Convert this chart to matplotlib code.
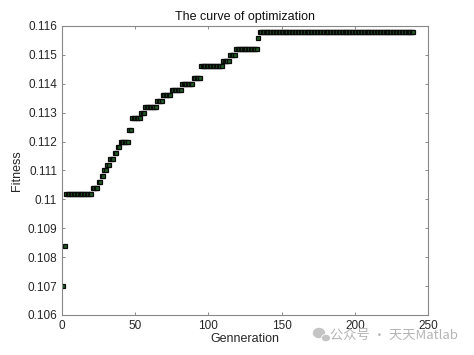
import numpy as np
import matplotlib
matplotlib.use("Agg")
import matplotlib.pyplot as plt
from matplotlib.patches import Ellipse

# fitness level and the generation where it first shows up
step_start = [1, 2, 3, 21, 25, 27, 29, 31, 33, 36, 38, 40, 46, 48, 54, 57, 65,
              69, 75, 82, 90, 95, 110, 115, 119, 134, 135]
step_value = [0.1070, 0.1084, 0.1102, 0.1104, 0.1106, 0.1108, 0.1110, 0.1112,
              0.1114, 0.1116, 0.1118, 0.1120, 0.1124, 0.1128, 0.1130, 0.1132,
              0.1134, 0.1136, 0.1138, 0.1140, 0.1142, 0.1146, 0.1148, 0.1150,
              0.1152, 0.1156, 0.1158]
last_gen = 240

x_ticks = [0, 50, 100, 150, 200, 250]
y_ticks = [0.106, 0.107, 0.108, 0.109, 0.110, 0.111, 0.112, 0.113, 0.114, 0.115, 0.116]
y_labels = ["0.106", "0.107", "0.108", "0.109", "0.11", "0.111", "0.112",
            "0.113", "0.114", "0.115", "0.116"]

lengths = np.diff(step_start + [last_gen + 1])
gens = np.arange(1, last_gen + 1)
fitness = np.repeat(step_value, lengths)

plt.rcParams["font.family"] = ["Liberation Sans", "DejaVu Sans"]
fig = plt.figure(figsize=(4.74, 3.55), dpi=100)
ax = fig.add_axes([0.1308, 0.1127, 0.7722, 0.8141])

ax.plot(gens, fitness, linestyle="none", marker="s", markersize=3.0,
        markerfacecolor="#1f5a22", markeredgecolor="#0a0a0a", markeredgewidth=0.9)

ax.set_xlim(0, 250)
ax.set_ylim(0.106, 0.116)
ax.set_xticks(x_ticks)
ax.set_yticks(y_ticks)
ax.set_yticklabels(y_labels)
ax.tick_params(direction="in", length=2.5, width=0.6, colors="#777777",
               labelcolor="#262626", labelsize=8.5, top=True, right=True)
for s in ax.spines.values():
    s.set_color("#888888")
    s.set_linewidth(0.8)

ax.set_title("The curve of optimization", fontsize=9, color="#111111", pad=4)
ax.set_xlabel("Genneration", fontsize=9, color="#262626", labelpad=1)
ax.set_ylabel("Fitness", fontsize=9, color="#262626", labelpad=3)

# watermark: wechat-like bubbles + text
fig.patches.append(Ellipse((319 / 474, 1 - 333 / 355), 11 / 474, 9 / 355,
                           transform=fig.transFigure, color="#c4c4c4", zorder=5))
fig.patches.append(Ellipse((326 / 474, 1 - 338 / 355), 9 / 474, 7.5 / 355,
                           transform=fig.transFigure, color="#c4c4c4", zorder=5,
                           ec="white", lw=0.6))
fig.text(0.966, 0.055, "公众号 · 天天Matlab", fontsize=9.5, color="#b5b5b5",
         ha="right", va="center", family=["Noto Sans CJK SC", "DejaVu Sans"])

fig.savefig("out.png", dpi=100)
